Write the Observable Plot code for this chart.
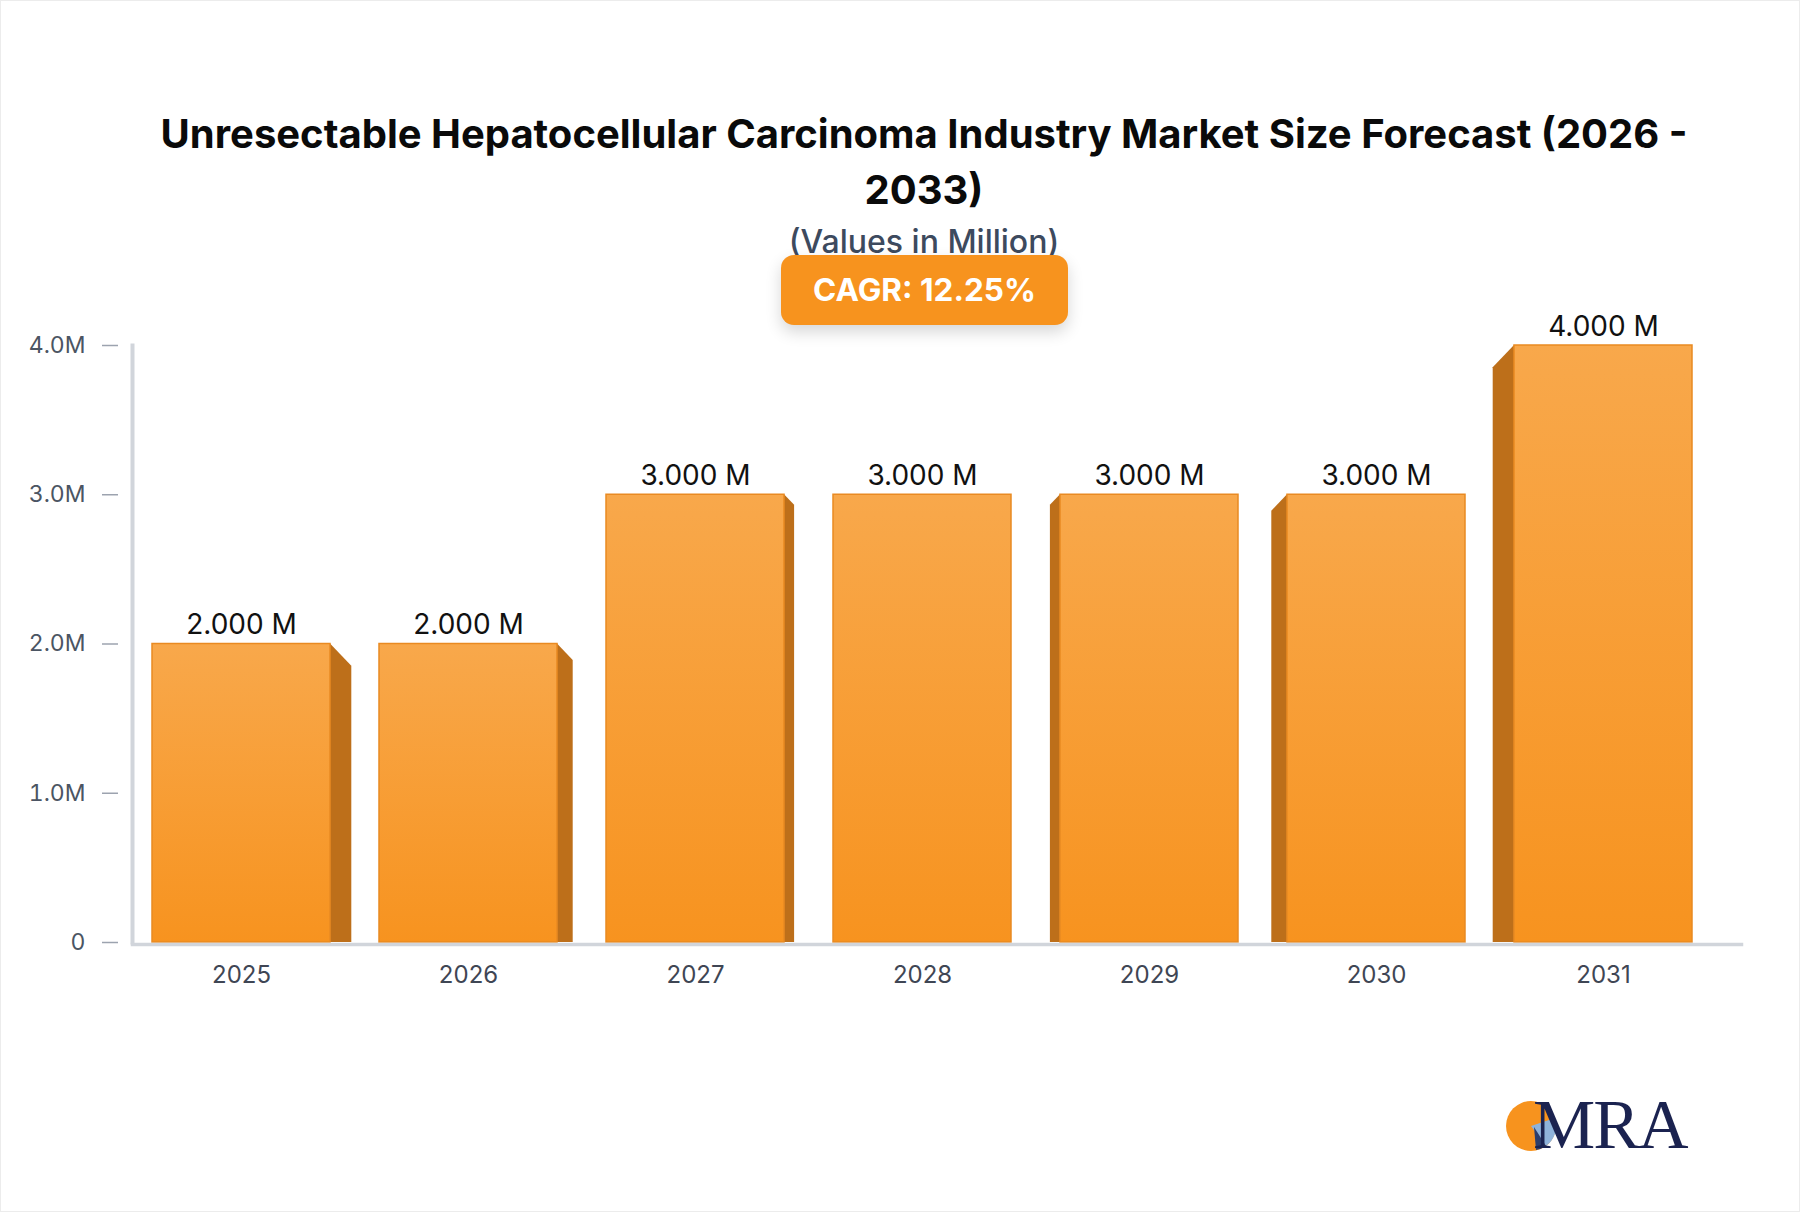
<!DOCTYPE html>
<html>
<head>
<meta charset="utf-8">
<script src="https://cdn.jsdelivr.net/npm/d3@7"></script>
<script src="https://cdn.jsdelivr.net/npm/@observablehq/plot@0.6"></script>
<style>
  html, body { margin: 0; padding: 0; background: #fff; }
  #wrap { position: relative; width: 1800px; height: 1212px; overflow: hidden; background: #fff; font-family: Inter, "Noto Sans", sans-serif; }
  #chart { position: absolute; left: 0; top: 0; }
  #title { position: absolute; left: 124px; width: 1600px; top: 106px; text-align: center; font-weight: 700; font-size: 40px; line-height: 56px; color: #0a0a0a; white-space: nowrap; }
  #subtitle { position: absolute; left: 124px; width: 1600px; top: 225px; text-align: center; font-weight: 500; font-size: 32px; line-height: 34px; color: #3d4a5e; }
  #badge { position: absolute; left: 781px; top: 255px; width: 287px; height: 70px; line-height: 70px; border-radius: 13px; background: #F7931E; color: #fff; text-align: center; font-weight: 700; font-size: 31.5px; box-shadow: 0 7px 16px rgba(0,0,0,0.16); }
  #logo { position: absolute; left: 1500px; top: 1085px; overflow: visible; }
  #frameBorder { position: absolute; left: 0; top: 0; width: 1798px; height: 1210px; border: 1px solid #ececec; pointer-events: none; }
</style>
</head>
<body>
<div id="wrap">
  <div id="chart"></div>
  <div id="title">Unresectable Hepatocellular Carcinoma Industry Market Size Forecast (2026 -<br>2033)</div>
  <div id="subtitle">(Values in Million)</div>
  <div id="badge">CAGR: 12.25%</div>
  <svg id="logo" width="260" height="90">
    <circle cx="31" cy="41" r="25" fill="#F7931E"></circle>
    <path d="M31,41 L55,33 A25,25 0 0 1 46,61 Z" fill="#8fb3da"></path>
    <path d="M34,42 L46,61 A25,25 0 0 1 36,65 Z" fill="#2c3e6b"></path>
    <text x="33" y="63" font-family="'Liberation Serif', 'DejaVu Serif', serif" font-size="70" fill="#1b2350" letter-spacing="-2">MRA</text>
  </svg>
  <div id="frameBorder"></div>
</div>
<script>
// ---- data ----
const years = ["2025", "2026", "2027", "2028", "2029", "2030", "2031"];
const values = [2, 2, 3, 3, 3, 3, 4];            // in Million
const yTicks = [0, 1, 2, 3, 4];
const yTickLabels = ["0", "1.0M", "2.0M", "3.0M", "4.0M"];
const valueLabels = ["2.000 M", "2.000 M", "3.000 M", "3.000 M", "3.000 M", "3.000 M", "4.000 M"];

const data = years.map((y, i) => ({year: y, value: values[i], label: valueLabels[i]}));

function defsMark() {
  const defs = d3.create("svg:defs");
  const g = defs.append("linearGradient").attr("id", "barGrad")
    .attr("x1", 0).attr("y1", 0).attr("x2", 0).attr("y2", 1);
  g.append("stop").attr("offset", "0%").attr("stop-color", "#F8A84B");
  g.append("stop").attr("offset", "100%").attr("stop-color", "#F7931F");
  return defs.node();
}

function sidesMark(index, scales) {
  const x = scales.x, y = scales.y;
  const bw = typeof x.bandwidth === "function" ? x.bandwidth() : x.bandwidth;
  const mid = (years.length - 1) / 2;
  const g = d3.create("svg:g");
  data.forEach((d, i) => {
    const off = i - mid;
    if (off === 0) return;
    const w = 4.5 + 5.6 * Math.abs(off);
    const drop = w * 1.05;
    const x0 = x(d.year);
    const top = y(d.value), base = y(0);
    const edge = off < 0 ? x0 + bw : x0;
    const outer = off < 0 ? edge + w : edge - w;
    g.append("path")
      .attr("d", `M${edge},${top}L${outer},${top + drop}L${outer},${base}L${edge},${base}Z`)
      .attr("fill", "#BD6F1A");
  });
  return g.node();
}

const chart = Plot.plot({
  width: 1800,
  height: 1212,
  marginTop: 345,
  marginBottom: 270,
  marginLeft: 132,
  marginRight: 59,
  style: {fontFamily: "Inter, 'Noto Sans', sans-serif", background: "transparent", overflow: "visible"},
  x: {domain: years, padding: 0.2176, insetLeft: -31, insetRight: -1, axis: null},
  y: {domain: [0, 4], axis: null},
  marks: [
    defsMark,
    sidesMark,
    Plot.barY(data, {x: "year", y: "value", fill: "url(#barGrad)", stroke: "#E98A22", strokeWidth: 1.5}),
    Plot.text(data, {x: "year", y: "value", text: "label", lineAnchor: "bottom", dy: -10, fontSize: 28, fill: "#111"}),
    Plot.axisY({ticks: yTicks, tickFormat: d => yTickLabels[yTicks.indexOf(d)], label: null, tickSize: 16, dx: -14, tickPadding: 17, fontSize: 23, fill: "#4b5563", stroke: "#9ca3af", strokeWidth: 1.5}),
    Plot.axisX({label: null, tickSize: 0, tickPadding: 23, fontSize: 24, fill: "#3f4654"}),
    Plot.frame({anchor: "left", stroke: "#d1d5db", strokeWidth: 4}),
    Plot.frame({anchor: "bottom", stroke: "#d1d5db", strokeWidth: 3.5, dy: 2})
  ]
});
document.getElementById("chart").appendChild(chart);
</script>
</body>
</html>
